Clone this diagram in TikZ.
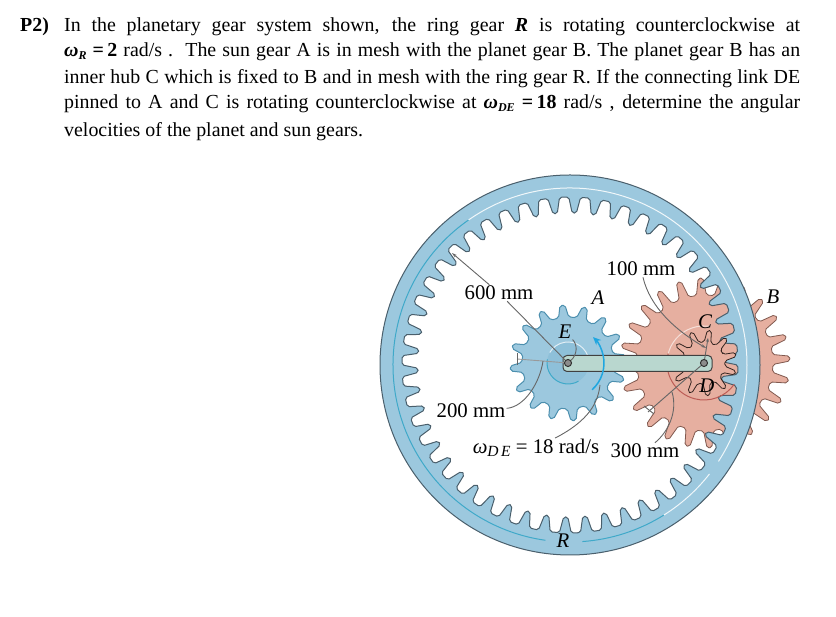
\documentclass[tikz,border=0pt]{standalone}
\usepackage{fontspec}
\setmainfont{Liberation Serif}
\usetikzlibrary{arrows.meta}

\definecolor{RingBlue}{HTML}{9CC8DE}
\definecolor{RingEdge}{HTML}{4A5F6C}
\definecolor{SunEdge}{HTML}{4C8FAE}
\definecolor{HubBlue}{HTML}{8EC0D9}
\definecolor{PlanetRed}{HTML}{E6AFA0}
\definecolor{PlanetEdge}{HTML}{80594F}
\definecolor{HubRed}{HTML}{BC5C55}
\definecolor{LinkGreen}{HTML}{B9D7CF}
\definecolor{SpinBlue}{HTML}{1FA6E0}
\definecolor{StripeBlue}{HTML}{3FA9C9}

\tikzset{
  bodytext/.style={anchor=base west, inner sep=0pt, font=\fontsize{19.9}{22}\selectfont},
  dimlabel/.style={inner sep=1pt, font=\fontsize{20.8}{22}\selectfont},
  partlabel/.style={inner sep=1pt, font=\fontsize{20.8}{22}\selectfont\itshape},
  dimline/.style={color=black!60, line width=0.9},
  stripe/.style={line width=1},
}

% center x, center y, teeth, base radius, tip radius, phase
\newcommand{\gearpath}[6]{
  ({#1+#4*cos(#6+0.5*360/#3)},{#2+#4*sin(#6+0.5*360/#3)})
  \foreach \i [evaluate=\i as \a using #6+\i*(360/#3)] in {1,...,#3}{
    -- ({#1+#4*cos(\a-0.28*360/#3)},{#2+#4*sin(\a-0.28*360/#3)})
    -- ({#1+#5*cos(\a-0.11*360/#3)},{#2+#5*sin(\a-0.11*360/#3)})
    -- ({#1+#5*cos(\a+0.11*360/#3)},{#2+#5*sin(\a+0.11*360/#3)})
    -- ({#1+#4*cos(\a+0.28*360/#3)},{#2+#4*sin(\a+0.28*360/#3)})
  } -- cycle
}
\newcommand{\sub}[1]{\raisebox{-3pt}{\fontsize{12}{12}\selectfont\bfseries\itshape #1}}
\newcommand{\fullline}[1]{\hbox to 736pt{#1}}

\begin{document}
\begin{tikzpicture}[x=1pt, y=1pt]

 \useasboundingbox (0,0) rectangle (836,617);

 %%%%%%%%%% Problem text %%%%%%%%%%
 \node [bodytext] (number) at (20,585) {\textbf{P2)}};
 \node [bodytext] (lineone) at (64,585) {\fullline{In the planetary gear system shown, the ring gear \textbf{\textit{R}} is rotating counterclockwise at}};
 \node [bodytext] (linetwo) at (64,560) {\fullline{\textbf{\textit{ω}}\sub{R} \textbf{=\,2} rad/s .\ \ The sun gear A is in mesh with the planet gear B. The planet gear B has an}};
 \node [bodytext] (linethree) at (64,533) {\fullline{inner hub C which is fixed to B and in mesh with the ring gear R. If the connecting link DE}};
 \node [bodytext] (linefour) at (64,508) {\fullline{pinned to A and C is rotating counterclockwise at \textbf{\textit{ω}}\sub{DE} \textbf{=\,18} rad/s , determine the angular}};
 \node [bodytext] (linefive) at (64,480) {velocities of the planet and sun gears.};

 %%%%%%%%%% Points pour travailler %%%%%%%%%%
 \coordinate (O) at (570,252);
 \coordinate (E) at (568,254);
 \coordinate (D) at (704,254);
 \coordinate (ringtooth) at (452,364);
 \coordinate (hubtop) at (706,269);
 \coordinate (ctip) at (708,279);
 \coordinate (btooth) at (648,205);
 \coordinate (atooth) at (517,258);
 \coordinate (threeend) at (672,225);
 \coordinate (twoend) at (543,256);
 \coordinate (omegaend) at (600,232);

 %%%%%%%%%% Planet gear B, behind the ring %%%%%%%%%%
 \draw [color=PlanetEdge, fill=PlanetRed, line width=0.8, rounded corners=2] \gearpath{705}{254}{24}{68}{85}{3};

 %%%%%%%%%% Ring gear R %%%%%%%%%%
 \draw [color=RingEdge, fill=RingBlue, even odd rule, line width=1]
   (O) circle [radius=190] [rounded corners=2] \gearpath{570}{252}{50}{168}{152}{2};
 \draw [stripe, color=white!85!RingBlue] (O) ++(125:177) arc [start angle=125, end angle=-33, radius=177];
 \draw [stripe, color=white!85!RingBlue] (O) ++(-38:177) arc [start angle=-38, end angle=-58, radius=177];
 \draw [stripe, color=StripeBlue] (O) ++(125:177) arc [start angle=125, end angle=262, radius=177];
 \draw [stripe, color=StripeBlue] (O) ++(274:177) arc [start angle=274, end angle=302, radius=177];

 %%%%%%%%%% Hub C %%%%%%%%%%
 \draw [stripe, color=HubRed] (D) ++(165:37) arc [start angle=165, end angle=325, radius=37];
 \draw [stripe, color=white!60!PlanetRed] (D) ++(80:37) arc [start angle=80, end angle=165, radius=37];
 \draw [color=black!60!PlanetEdge, fill=PlanetRed, line width=0.8, rounded corners=2] \gearpath{704}{254}{11}{21}{33}{15};

 %%%%%%%%%% Sun gear A %%%%%%%%%%
 \draw [color=SunEdge, fill=RingBlue, line width=1, rounded corners=2] \gearpath{568}{254}{16}{46}{58}{73};
 \fill [color=HubBlue] (E) circle [radius=21];
 \draw [stripe, color=StripeBlue] (E) ++(170:21) arc [start angle=170, end angle=300, radius=21];
 \draw [stripe, color=white!70!RingBlue] (E) ++(10:21) arc [start angle=10, end angle=150, radius=21];

 %%%%%%%%%%% Link DE %%%%%%%%%%%
 \draw [color=black!75, fill=LinkGreen, line width=1, rounded corners=4] (563,245.5) rectangle (712,261.5);
 \draw (E) node [circle, draw=black!80, fill=black!45, line width=1, inner sep=2.5pt] (pinE) {};
 \draw (D) node [circle, draw=black!80, fill=black!45, line width=1, inner sep=2.5pt] (pinD) {};

 %%%%%%%%%%% Spin arrow %%%%%%%%%%%
 \draw [-{Stealth[length=8pt, width=7pt]}, color=SpinBlue, line width=1.5] (E) ++(-48:36) arc [start angle=-48, end angle=46, radius=36];

 %%%%%%%%%%% Labels %%%%%%%%%%%
 \node [dimlabel] (sixlabel) at (499,324) {600 mm};
 \node [dimlabel] (hundredlabel) at (641,348) {100 mm};
 \node [dimlabel] (twolabel) at (471,206) {200 mm};
 \node [dimlabel] (threelabel) at (645,166) {300 mm};
 \node [dimlabel] (omegalabel) at (536,169) {\textit{ω}\raisebox{-3pt}{\fontsize{15.5}{14}\selectfont\textit{D\,E}} = 18 rad/s};
 \node [partlabel] (Alabel) at (598,319) {A};
 \node [partlabel] (Blabel) at (773,320) {B};
 \node [partlabel] (Clabel) at (705,295) {C};
 \node [partlabel] (Dlabel) at (707,231) {D};
 \node [partlabel] (Elabel) at (565,285) {E};
 \node [partlabel] (Rlabel) at (563,76) {R};

 %%%%%%%%%%% Dimension lines %%%%%%%%%%%
 \draw [dimline] (pinE) -- (sixlabel);
 \draw [dimline, -{Stealth[length=5pt, width=3pt]}] (sixlabel) -- (ringtooth);
 \draw [dimline, color=white!60!black] (pinE) -- (atooth);
 \draw [dimline] (517,252) -- (517,264);
 \draw [dimline] (twolabel) .. controls (525,210) and (540,235) .. (twoend);
 \draw [dimline] (Elabel) .. controls (578,272) and (577,262) .. (pinE);
 \draw [dimline] (omegalabel) .. controls (590,197) and (598,215) .. (omegaend);
 \draw [dimline, -{Stealth[length=5pt, width=3pt]}] (hundredlabel) .. controls (650,310) and (675,287) .. (hubtop);
 \draw [dimline, -{Stealth[length=4pt, width=3pt]}] (pinD) -- (ctip);
 \draw [dimline] (pinD) -- (btooth);
 \draw [dimline] (644,211) -- (654,203);
 \draw [dimline] (threelabel) .. controls (668,185) and (678,205) .. (threeend);

\end{tikzpicture}
\end{document}
